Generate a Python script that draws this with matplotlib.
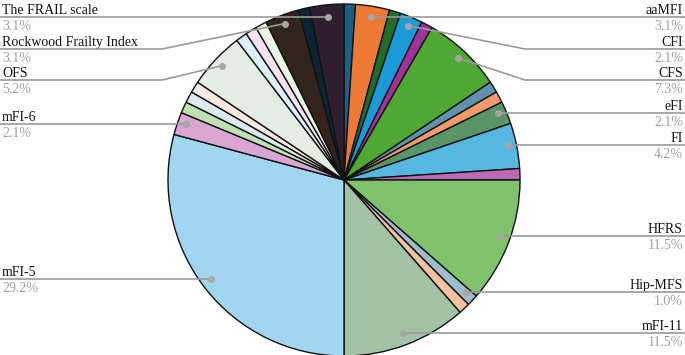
import matplotlib
matplotlib.use("Agg")
import matplotlib.pyplot as plt
import numpy as np

# ---- data (counts, total 96) ----
labels = [None, "aaMFI", None, "CFI", None, "CFS", None, None, "eFI", "FI", None,
          "HFRS", "Hip-MFS", None, "mFI-11", "mFI-5", "mFI-6", None, None, None,
          "OFS", None, None, None, "Rockwood Frailty Index", None, "The FRAIL scale"]
values = [1, 3, 1, 2, 1, 7, 1, 1, 2, 4, 1,
          11, 1, 1, 11, 28, 2, 1, 1, 1,
          5, 1, 1, 1, 3, 1, 3]
colors = ["#1f5f86", "#ec7a35", "#1e6e2a", "#1a9ad6", "#a0339a", "#4fa832",
          "#5f93ad", "#f19b6c", "#5a9567", "#55b8e0", "#bb6ab3",
          "#80c26b", "#9dbdcc", "#f6c0a2", "#a3c3a6", "#a0d6ef", "#d9a6d3",
          "#bfe0b2", "#dce9ef", "#fbe9df", "#e4ede4", "#dcf0fa", "#f5e3f1",
          "#e9f4e4", "#33231d", "#0b2433", "#2e1e2f"]

# label layout: (side, line y in pixels from top)
label_pos = {
    "The FRAIL scale": ("left", 17),
    "Rockwood Frailty Index": ("left", 49),
    "OFS": ("left", 80),
    "mFI-6": ("left", 124),
    "mFI-5": ("left", 279),
    "aaMFI": ("right", 17),
    "CFI": ("right", 49),
    "CFS": ("right", 80),
    "eFI": ("right", 113),
    "FI": ("right", 145),
    "HFRS": ("right", 236),
    "Hip-MFS": ("right", 292),
    "mFI-11": ("right", 333),
}

W, H = 685, 355
fig = plt.figure(figsize=(W / 100, H / 100), dpi=100)
ax = fig.add_axes([0, 0, 1, 1])

cx, cy, R = 344, H - 180, 176
wedges, _ = ax.pie(values, colors=colors, startangle=90, counterclock=False,
                   center=(cx, cy), radius=R,
                   wedgeprops=dict(edgecolor="#111111", linewidth=1.0))
ax.set_xlim(0, W)
ax.set_ylim(0, H)
ax.set_aspect("equal")
ax.axis("off")

total = sum(values)
font = "Liberation Serif"
line_col = "#9a9a9a"
for w, lab, v in zip(wedges, labels, values):
    if lab is None:
        continue
    side, ly_px = label_pos[lab]
    ly = H - ly_px
    mid = np.deg2rad((w.theta1 + w.theta2) / 2)
    px = cx + 0.95 * R * np.cos(mid)
    py = cy + 0.95 * R * np.sin(mid)
    if side == "left":
        x0, xe = 0, 162
        tx, ha = 2, "left"
    else:
        x0, xe = W, 525
        tx, ha = W - 2, "right"
    if abs(py - ly) < 8:
        py = ly
        xs, ys = [x0, px], [ly, ly]
    elif (side == "left" and px < xe) or (side == "right" and px > xe):
        xs, ys = [x0, px], [ly, py]
    else:
        xs, ys = [x0, xe, px], [ly, ly, py]
    ax.plot(xs, ys, color=line_col, lw=1.2, solid_capstyle="butt", zorder=5)
    ax.plot([px], [py], "o", color="#a6a6a6", ms=4, zorder=6)
    ax.text(tx, ly + 3, lab, ha=ha, va="baseline", fontsize=10,
            family=font, color="#111111")
    ax.text(tx, ly - 3, f"{100 * v / total:.1f}%", ha=ha, va="top",
            fontsize=10, family=font, color="#a0a0a0")

fig.savefig("out.png", dpi=100)
